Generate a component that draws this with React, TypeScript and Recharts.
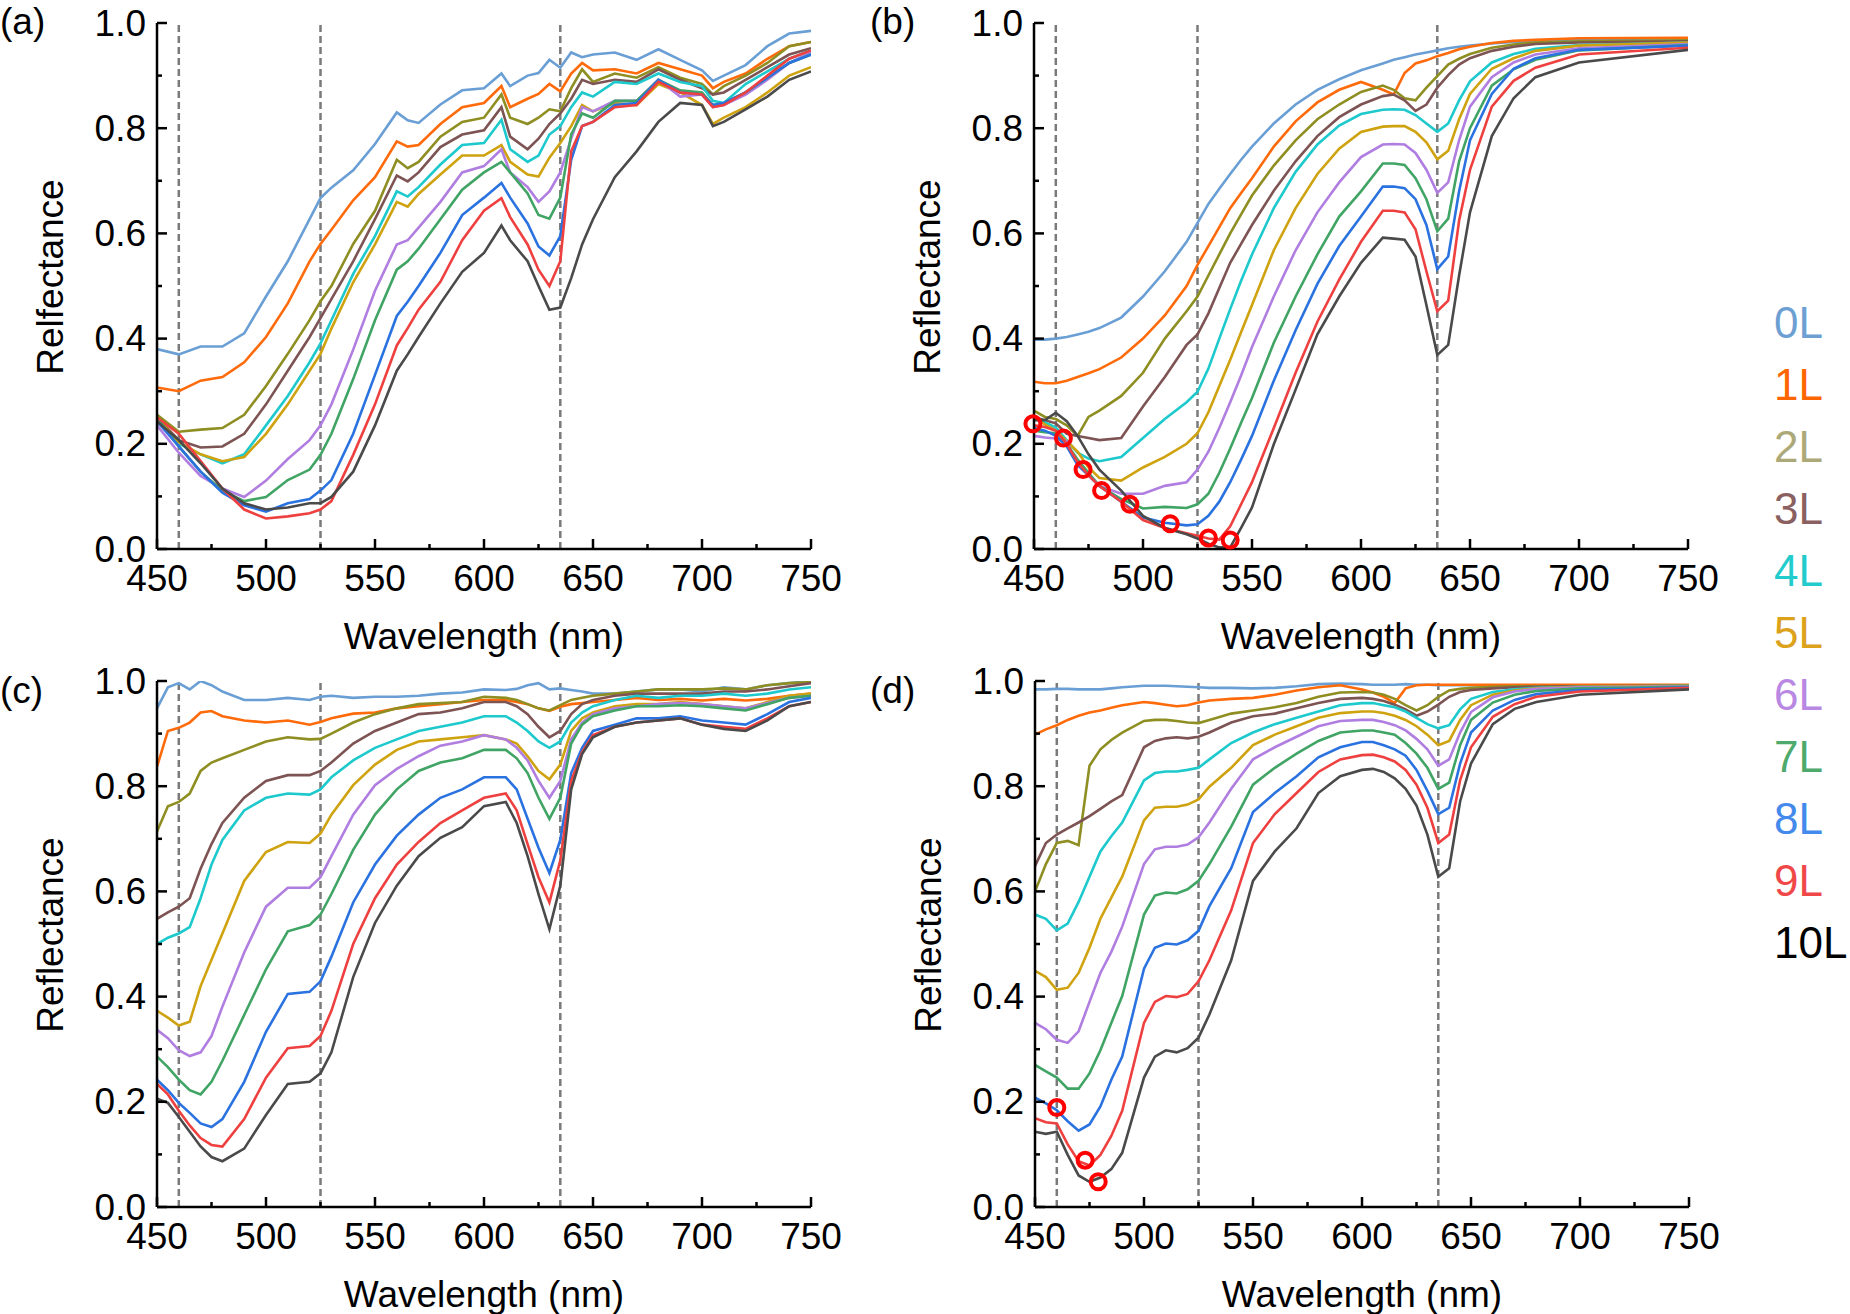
import {
  ComposedChart,
  Line,
  XAxis,
  YAxis,
  ReferenceLine,
  ReferenceDot,
} from 'recharts'

const FONT = '"Liberation Sans", Arial, Helvetica, sans-serif'

const LAYERS = ['0L', '1L', '2L', '3L', '4L', '5L', '6L', '7L', '8L', '9L', '10L']
const LINE_COLORS = [
  '#6a9fd5', '#ff6a0a', '#8e8e22', '#7d5353', '#1dc9cc', '#cfa20f',
  '#b07ee0', '#40a464', '#2a72e0', '#ef4040', '#4a4a4a',
]
const LEGEND_COLORS = [
  '#6e9fd3', '#ff6600', '#aca877', '#8a6060', '#22cccc', '#dca21c',
  '#b888e2', '#4eaa6c', '#4489ec', '#f04848', '#000000',
]

const X_TICKS = [450, 475, 500, 525, 550, 575, 600, 625, 650, 675, 700, 725, 750]
const Y_TICKS = [0, 0.1, 0.2, 0.3, 0.4, 0.5, 0.6, 0.7, 0.8, 0.9, 1.0]
const GUIDES = [460, 525, 635]

// (a) measured
const aWl = [450, 460, 470, 480, 490, 500, 510, 520, 525, 530, 540, 550, 560, 565, 570, 580, 590, 600, 608, 612, 620, 625, 630, 635, 640, 645, 650, 660, 670, 680, 690, 700, 705, 710, 720, 730, 740, 750]
const a0 = [.38, .37, .385, .385, .41, .48, .547, .627, .667, .687, .72, .77, .83, .815, .81, .845, .872, .876, .904, .88, .9, .905, .93, .915, .944, .935, .94, .944, .93, .95, .93, .91, .89, .9, .92, .956, .98, .985]
const a1 = [.307, .3, .32, .327, .355, .403, .467, .547, .58, .607, .663, .707, .775, .765, .768, .808, .84, .848, .88, .84, .856, .865, .884, .87, .904, .924, .91, .912, .904, .924, .912, .9, .876, .888, .904, .932, .956, .964]
const a2 = [.255, .223, .227, .23, .255, .31, .371, .435, .471, .5, .58, .643, .74, .724, .736, .784, .812, .82, .864, .82, .808, .82, .836, .832, .876, .912, .888, .904, .896, .916, .896, .884, .864, .88, .9, .924, .956, .964]
const a3 = [.25, .207, .193, .195, .219, .275, .339, .403, .439, .475, .547, .627, .71, .699, .716, .764, .788, .796, .84, .784, .76, .78, .808, .828, .856, .892, .884, .892, .888, .912, .892, .876, .864, .868, .892, .916, .94, .952]
const a4 = [.247, .2, .18, .163, .18, .235, .291, .355, .391, .435, .523, .595, .68, .67, .688, .731, .768, .772, .816, .76, .736, .748, .788, .804, .84, .868, .86, .888, .884, .904, .888, .88, .852, .848, .884, .908, .932, .948]
const a5 = [.25, .203, .18, .167, .175, .219, .275, .339, .371, .419, .507, .579, .66, .651, .675, .712, .748, .748, .768, .736, .712, .708, .744, .772, .804, .844, .832, .848, .844, .884, .868, .844, .808, .82, .84, .868, .9, .916]
const a6 = [.235, .183, .139, .115, .099, .13, .171, .207, .235, .275, .379, .491, .579, .587, .611, .66, .716, .728, .76, .716, .688, .66, .68, .716, .78, .84, .832, .852, .852, .892, .86, .864, .84, .844, .864, .892, .924, .944]
const a7 = [.25, .195, .147, .111, .091, .099, .131, .151, .179, .219, .323, .435, .531, .547, .571, .627, .683, .716, .736, .716, .676, .635, .628, .668, .788, .828, .82, .852, .852, .892, .872, .868, .844, .848, .868, .896, .924, .94]
const a8 = [.243, .195, .147, .107, .083, .071, .087, .095, .111, .131, .219, .331, .443, .47, .5, .563, .635, .668, .696, .668, .619, .575, .558, .595, .74, .804, .812, .844, .848, .892, .868, .864, .844, .848, .868, .896, .924, .94]
const a9 = [.25, .219, .167, .115, .075, .058, .062, .068, .075, .091, .179, .275, .387, .42, .455, .508, .587, .643, .667, .631, .579, .531, .5, .547, .756, .804, .812, .84, .844, .888, .868, .864, .84, .844, .868, .9, .932, .948]
const a10 = [.243, .207, .163, .115, .087, .075, .079, .087, .087, .099, .147, .235, .339, .37, .403, .467, .527, .563, .615, .587, .547, .5, .455, .459, .515, .579, .627, .707, .756, .812, .848, .844, .804, .812, .836, .86, .892, .908]

// (b) simulated
const bWl = [450, 455, 460, 465, 470, 475, 480, 490, 500, 510, 520, 525, 530, 535, 540, 545, 550, 560, 570, 580, 590, 600, 610, 615, 620, 625, 630, 635, 640, 645, 650, 660, 670, 680, 700, 750]
const b0 = [.398, .398, .4, .403, .408, .413, .42, .44, .48, .528, .584, .62, .656, .685, .713, .74, .765, .809, .845, .873, .893, .91, .923, .93, .935, .94, .944, .948, .952, .955, .957, .961, .964, .966, .969, .971]
const b1 = [.318, .315, .315, .32, .327, .334, .342, .364, .4, .444, .5, .54, .576, .612, .648, .677, .705, .765, .813, .849, .873, .888, .873, .864, .905, .923, .929, .937, .943, .95, .955, .962, .966, .968, .971, .972]
const b2 = [.263, .251, .247, .235, .215, .251, .263, .291, .335, .4, .452, .48, .52, .56, .6, .636, .672, .729, .777, .817, .845, .869, .881, .873, .857, .853, .877, .899, .921, .932, .941, .953, .959, .963, .965, .967]
const b3 = [.251, .245, .239, .219, .215, .211, .207, .211, .271, .327, .388, .408, .448, .496, .544, .58, .616, .681, .737, .785, .821, .845, .861, .864, .853, .833, .845, .877, .901, .921, .933, .947, .955, .96, .963, .965]
const b4 = [.251, .241, .231, .207, .183, .172, .167, .175, .211, .247, .279, .299, .343, .4, .456, .51, .56, .648, .717, .769, .805, .827, .835, .836, .835, .825, .809, .793, .809, .853, .889, .925, .941, .951, .958, .963]
const b5 = [.25, .237, .225, .205, .185, .155, .135, .13, .155, .175, .2, .22, .26, .31, .36, .412, .464, .568, .648, .713, .761, .793, .803, .804, .804, .793, .773, .741, .757, .817, .865, .913, .933, .947, .957, .963]
const b6 = [.215, .212, .21, .205, .16, .14, .12, .105, .105, .12, .127, .151, .185, .23, .279, .33, .384, .48, .568, .64, .697, .745, .769, .77, .769, .753, .721, .677, .697, .777, .841, .897, .925, .94, .952, .96]
const b7 = [.225, .222, .22, .2, .17, .145, .12, .095, .077, .08, .078, .085, .105, .145, .191, .24, .287, .392, .48, .56, .632, .68, .733, .733, .73, .705, .665, .604, .628, .737, .8, .881, .912, .93, .948, .958]
const b8 = [.23, .225, .215, .195, .16, .14, .12, .09, .06, .05, .045, .047, .063, .09, .127, .17, .215, .32, .416, .504, .576, .632, .689, .689, .686, .665, .616, .532, .556, .68, .777, .865, .913, .933, .949, .957]
const b9 = [.235, .232, .225, .2, .165, .14, .12, .09, .055, .04, .03, .025, .02, .018, .043, .085, .127, .23, .335, .432, .512, .584, .643, .643, .64, .608, .528, .452, .472, .624, .721, .841, .89, .915, .94, .953]
const b10 = [.245, .245, .259, .243, .215, .18, .151, .111, .063, .04, .028, .02, .01, .003, .003, .04, .079, .199, .303, .408, .48, .544, .592, .59, .588, .556, .464, .369, .388, .52, .64, .785, .857, .897, .925, .949]
const bMarks = [[449.5, .238], [463.5, .211], [472.5, .151], [481, .111], [494, .085], [512.5, .048], [530, .021], [540, .017]]

// (c) measured
const cWl = [450, 455, 460, 465, 470, 475, 480, 490, 500, 510, 520, 525, 530, 540, 550, 560, 570, 580, 590, 600, 610, 615, 620, 625, 630, 635, 640, 645, 650, 660, 670, 680, 690, 700, 710, 720, 730, 740, 750]
const c0 = [.948, .988, .996, .984, 1.0, .992, .98, .964, .964, .968, .964, .97, .972, .968, .97, .97, .972, .976, .978, .984, .983, .985, .992, .996, .984, .986, .983, .98, .976, .976, .98, .984, .984, .98, .988, .984, .992, .996, 1.0]
const c1 = [.837, .905, .911, .921, .94, .943, .933, .925, .921, .925, .917, .922, .929, .938, .94, .948, .952, .956, .96, .964, .964, .96, .956, .948, .943, .951, .956, .958, .96, .964, .968, .964, .966, .963, .966, .963, .966, .972, .976]
const c2 = [.714, .762, .77, .786, .829, .845, .853, .869, .885, .893, .889, .89, .9, .921, .937, .948, .956, .958, .96, .97, .968, .964, .956, .948, .944, .954, .964, .968, .972, .976, .98, .984, .984, .984, .986, .984, .992, .996, .998]
const c3 = [.548, .56, .571, .587, .643, .69, .73, .778, .81, .821, .821, .829, .845, .881, .905, .921, .937, .94, .948, .96, .96, .952, .937, .913, .893, .905, .937, .956, .964, .972, .976, .976, .976, .976, .98, .98, .984, .99, .996]
const c4 = [.5, .512, .52, .532, .587, .651, .698, .754, .778, .786, .784, .794, .817, .849, .873, .889, .905, .913, .921, .933, .933, .921, .905, .885, .873, .885, .921, .94, .952, .964, .972, .968, .972, .972, .976, .972, .976, .984, .988]
const c5 = [.373, .36, .345, .352, .42, .47, .52, .62, .675, .694, .692, .71, .746, .802, .841, .869, .885, .889, .893, .897, .889, .881, .857, .829, .813, .841, .905, .929, .94, .952, .956, .956, .96, .956, .952, .948, .96, .972, .976]
const c6 = [.337, .321, .298, .287, .294, .325, .381, .484, .571, .607, .607, .627, .667, .746, .802, .833, .857, .877, .885, .897, .889, .873, .849, .81, .778, .81, .889, .921, .937, .948, .952, .956, .958, .956, .952, .948, .958, .968, .972]
const c7 = [.286, .266, .242, .222, .214, .238, .278, .365, .452, .524, .536, .556, .595, .679, .746, .794, .829, .845, .853, .869, .869, .853, .825, .778, .738, .778, .881, .917, .933, .944, .952, .952, .954, .952, .948, .944, .956, .968, .972]
const c8 = [.242, .222, .198, .179, .159, .152, .167, .238, .333, .405, .409, .429, .476, .579, .651, .706, .746, .778, .794, .817, .817, .794, .738, .683, .635, .698, .825, .873, .905, .917, .929, .929, .933, .925, .921, .917, .937, .96, .968]
const c9 = [.234, .214, .183, .155, .131, .118, .115, .167, .246, .302, .306, .325, .373, .5, .587, .651, .694, .73, .754, .778, .786, .754, .69, .627, .579, .659, .81, .865, .897, .913, .921, .925, .929, .917, .913, .909, .929, .952, .96]
const c10 = [.206, .198, .171, .143, .115, .095, .087, .111, .175, .234, .238, .254, .294, .437, .54, .611, .667, .702, .722, .762, .77, .73, .667, .595, .528, .611, .794, .861, .893, .913, .921, .925, .929, .917, .909, .905, .925, .952, .96]

// (d) simulated
const dWl = [450, 455, 460, 465, 470, 475, 480, 485, 490, 500, 505, 510, 515, 520, 525, 530, 540, 550, 560, 570, 580, 590, 600, 605, 610, 615, 620, 625, 630, 635, 640, 645, 650, 660, 670, 680, 700, 750]
const d0 = [.984, .984, .985, .985, .984, .984, .984, .986, .988, .991, .991, .991, .99, .989, .988, .987, .987, .986, .987, .99, .994, .995, .994, .993, .993, .993, .994, .993, .993, .992, .992, .992, .992, .992, .992, .992, .992, .992]
const d1 = [.898, .908, .916, .926, .934, .94, .944, .949, .954, .96, .958, .955, .952, .954, .959, .963, .966, .968, .974, .982, .988, .992, .984, .978, .97, .958, .986, .992, .993, .993, .993, .993, .993, .993, .993, .993, .993, .993]
const d2 = [.6, .652, .692, .696, .688, .839, .87, .888, .902, .924, .926, .926, .924, .921, .92, .926, .938, .944, .95, .958, .97, .978, .979, .978, .974, .966, .954, .944, .954, .97, .982, .985, .987, .989, .99, .99, .99, .991]
const d3 = [.648, .692, .708, .72, .731, .743, .757, .771, .783, .874, .886, .891, .893, .891, .894, .902, .921, .933, .938, .948, .958, .966, .968, .966, .962, .955, .946, .934, .942, .955, .97, .979, .983, .986, .988, .989, .99, .991]
const d4 = [.556, .548, .526, .539, .58, .628, .676, .705, .731, .811, .825, .828, .828, .831, .835, .851, .882, .902, .918, .93, .942, .954, .958, .958, .954, .95, .942, .93, .918, .91, .916, .946, .966, .979, .984, .987, .989, .991]
const d5 = [.449, .437, .413, .417, .445, .493, .548, .588, .628, .735, .759, .761, .761, .765, .775, .799, .835, .878, .898, .914, .93, .939, .942, .942, .939, .934, .926, .914, .898, .878, .886, .926, .954, .974, .982, .986, .989, .991]
const d6 = [.35, .338, .318, .312, .334, .39, .445, .485, .533, .652, .68, .685, .685, .689, .703, .731, .795, .851, .874, .894, .914, .924, .926, .926, .922, .916, .906, .89, .87, .839, .851, .902, .941, .969, .98, .985, .988, .99]
const d7 = [.27, .258, .246, .225, .225, .254, .298, .35, .401, .556, .592, .598, .596, .604, .62, .652, .723, .803, .835, .862, .886, .902, .906, .906, .902, .898, .882, .862, .835, .795, .807, .878, .926, .959, .974, .981, .986, .989]
const d8 = [.208, .197, .184, .163, .145, .157, .191, .242, .286, .453, .493, .501, .499, .507, .525, .572, .644, .751, .787, .819, .855, .874, .884, .884, .878, .87, .858, .831, .791, .747, .759, .843, .902, .944, .964, .975, .983, .988]
const d9 = [.169, .161, .159, .119, .087, .079, .099, .135, .183, .35, .39, .401, .399, .405, .429, .469, .564, .692, .747, .787, .827, .851, .859, .86, .855, .847, .831, .803, .759, .692, .708, .811, .874, .932, .956, .97, .98, .987]
const d10 = [.143, .139, .143, .099, .06, .048, .056, .072, .103, .246, .286, .298, .294, .302, .322, .366, .469, .62, .676, .72, .787, .819, .831, .833, .827, .815, .795, .763, .708, .628, .644, .771, .843, .918, .947, .96, .974, .984]
const dMarks = [[460, .189], [473, .089], [479, .048]]

type Row = Record<string, number>

function buildRows(wl: number[], series: number[][]): Row[] {
  return wl.map((w, i) => {
    const row: Row = { wl: w }
    series.forEach((s, k) => {
      row[LAYERS[k]] = s[i]
    })
    return row
  })
}

const TICK_TEXT = { fontFamily: FONT, fontSize: 37, fill: '#000' }

function BottomTick(props: any) {
  const { x, y, payload } = props
  const major = payload.value % 50 === 0
  return (
    <g>
      <line x1={x} x2={x} y1={y} y2={y - (major ? 10 : 5)} stroke='#000' strokeWidth={2.5} />
      {major && (
        <text x={x} y={y + 29} textAnchor='middle' dominantBaseline='central' {...TICK_TEXT}>
          {payload.value}
        </text>
      )}
    </g>
  )
}

function TopTick(props: any) {
  const { x, y, payload } = props
  const major = payload.value % 50 === 0
  return <line x1={x} x2={x} y1={y} y2={y + (major ? 10 : 5)} stroke='#000' strokeWidth={2.5} />
}

function LeftTick(props: any) {
  const { x, y, payload } = props
  const major = Math.round(payload.value * 10) % 2 === 0
  return (
    <g>
      <line x1={x} x2={x + (major ? 10 : 5)} y1={y} y2={y} stroke='#000' strokeWidth={2.5} />
      {major && (
        <text x={x - 11} y={y} textAnchor='end' dominantBaseline='central' {...TICK_TEXT}>
          {payload.value.toFixed(1)}
        </text>
      )}
    </g>
  )
}

function RightTick(props: any) {
  const { x, y, payload } = props
  const major = Math.round(payload.value * 10) % 2 === 0
  return <line x1={x} x2={x - (major ? 10 : 5)} y1={y} y2={y} stroke='#000' strokeWidth={2.5} />
}

const FRAME = { stroke: '#000', strokeWidth: 2.5 }

type PanelProps = {
  left: number
  top: number
  yTitle: string
  wl: number[]
  series: number[][]
  marks?: number[][]
}

function Panel({ left, top, yTitle, wl, series, marks = [] }: PanelProps) {
  const data = buildRows(wl, series)
  return (
    <div style={{ position: 'absolute', left, top, width: 860, height: 660 }}>
      <ComposedChart
        width={860}
        height={660}
        data={data}
        margin={{ top: 23, right: 49, bottom: 0, left: 0 }}
      >
        <XAxis
          dataKey='wl'
          type='number'
          domain={[450, 750]}
          ticks={X_TICKS}
          interval={0}
          height={111}
          tickSize={0}
          tickMargin={0}
          tickLine={false}
          axisLine={FRAME}
          tick={(p: any) => <BottomTick {...p} />}
          allowDataOverflow
        />
        <XAxis
          xAxisId='top'
          orientation='top'
          type='number'
          domain={[450, 750]}
          ticks={X_TICKS}
          interval={0}
          height={0}
          tickSize={0}
          tickMargin={0}
          tickLine={false}
          axisLine={FRAME}
          tick={(p: any) => <TopTick {...p} />}
          allowDataOverflow
        />
        <YAxis
          type='number'
          domain={[0, 1]}
          ticks={Y_TICKS}
          interval={0}
          width={157}
          tickSize={0}
          tickMargin={0}
          tickLine={false}
          axisLine={FRAME}
          tick={(p: any) => <LeftTick {...p} />}
          allowDataOverflow
        />
        <YAxis
          yAxisId='right'
          orientation='right'
          type='number'
          domain={[0, 1]}
          ticks={Y_TICKS}
          interval={0}
          width={0}
          tickSize={0}
          tickMargin={0}
          tickLine={false}
          axisLine={FRAME}
          tick={(p: any) => <RightTick {...p} />}
          allowDataOverflow
        />
        {GUIDES.map((g) => (
          <ReferenceLine key={g} x={g} stroke='#7a7a7a' strokeWidth={2.5} strokeDasharray='7 4' />
        ))}
        {LAYERS.map((name, k) => (
          <Line
            key={name}
            type='linear'
            dataKey={name}
            stroke={LINE_COLORS[k]}
            strokeWidth={2.6}
            dot={false}
            activeDot={false}
            isAnimationActive={false}
          />
        ))}
        {marks.map(([mx, my], i) => (
          <ReferenceDot
            key={i}
            x={mx}
            y={my}
            r={7.5}
            fill='none'
            stroke='#ff0000'
            strokeWidth={4}
            ifOverflow='visible'
          />
        ))}
      </ComposedChart>
      <div
        style={{
          position: 'absolute',
          left: 157,
          width: 654,
          top: 617,
          lineHeight: '40px',
          textAlign: 'center',
          fontFamily: FONT,
          fontSize: 37,
        }}
      >
        Wavelength (nm)
      </div>
      <div
        style={{
          position: 'absolute',
          left: 51,
          top: 277,
          transform: 'translate(-50%, -50%) rotate(-90deg)',
          whiteSpace: 'nowrap',
          lineHeight: '40px',
          fontFamily: FONT,
          fontSize: 37,
        }}
      >
        {yTitle}
      </div>
    </div>
  )
}

const TAGS = [
  { text: '(a)', left: 0, top: 22 },
  { text: '(b)', left: 870, top: 22 },
  { text: '(c)', left: 0, top: 691 },
  { text: '(d)', left: 870, top: 691 },
]

export default function App() {
  return (
    <div
      style={{
        position: 'absolute',
        left: 0,
        top: 0,
        width: 1850,
        height: 1314,
        overflow: 'hidden',
        background: '#fff',
      }}
    >
      <Panel left={0} top={0} yTitle='Relfectance' wl={aWl}
        series={[a0, a1, a2, a3, a4, a5, a6, a7, a8, a9, a10]} />
      <Panel left={877} top={0} yTitle='Reflectance' wl={bWl}
        series={[b0, b1, b2, b3, b4, b5, b6, b7, b8, b9, b10]} marks={bMarks} />
      <Panel left={0} top={658} yTitle='Reflectance' wl={cWl}
        series={[c0, c1, c2, c3, c4, c5, c6, c7, c8, c9, c10]} />
      <Panel left={878} top={658} yTitle='Reflectance' wl={dWl}
        series={[d0, d1, d2, d3, d4, d5, d6, d7, d8, d9, d10]} marks={dMarks} />
      {TAGS.map((t) => (
        <div
          key={t.text}
          style={{
            position: 'absolute',
            left: t.left,
            top: t.top,
            transform: 'translateY(-50%)',
            lineHeight: '44px',
            fontFamily: FONT,
            fontSize: 37,
          }}
        >
          {t.text}
        </div>
      ))}
      {LAYERS.map((name, k) => (
        <div
          key={name}
          style={{
            position: 'absolute',
            left: 1774,
            top: 323 + 62 * k,
            transform: 'translateY(-50%)',
            lineHeight: '50px',
            whiteSpace: 'nowrap',
            fontFamily: FONT,
            fontSize: 44,
            color: LEGEND_COLORS[k],
          }}
        >
          {name}
        </div>
      ))}
    </div>
  )
}
